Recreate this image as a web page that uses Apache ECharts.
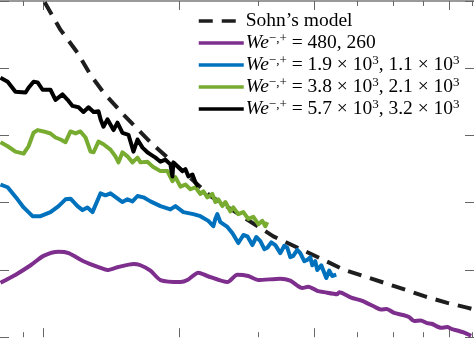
<!DOCTYPE html>
<html>
<head>
<meta charset="utf-8">
<script src="https://cdn.jsdelivr.net/npm/echarts@6/dist/echarts.min.js"></script>
<style>
  html, body { margin: 0; padding: 0; background: #fff; }
  #main { width: 474px; height: 354px; }
</style>
</head>
<body>
<div id="main"></div>
<script>
let chart = echarts.init(document.getElementById('main'));

// series names, as shown in the legend
const seriesNames = [
    'Sohn’s model',
    'We−,+ = 480, 260',
    'We−,+ = 1.9 × 10^3, 1.1 × 10^3',
    'We−,+ = 3.8 × 10^3, 2.1 × 10^3',
    'We−,+ = 5.7 × 10^3, 3.2 × 10^3'
];
const seriesColors = ['#1e1e1e', '#7e2f8e', '#0072bd', '#77ac30', '#000000'];

// tick positions (log x, linear y), no labels are visible in the crop
const xMajorTicks = [1, 2, 4, 8];
const xMinorTicks = [0.9, 3, 5, 6, 7, 9];
const yTicks = [0, 1, 2, 3, 4, 5];

// [x, y]
const sohnModel = [
    [0.95, 5.28], [1.0, 5.01], [1.091, 4.57], [1.19, 4.23], [1.272, 3.90],
    [1.359, 3.64], [1.506, 3.31], [1.729, 2.90], [2.35, 2.10], [3.245, 1.50],
    [4.106, 1.18], [4.67, 1.0], [6.03, 0.76], [7.03, 0.61], [7.91, 0.51],
    [8.755, 0.44], [9.2, 0.40]
];

const we480 = [
    [0.802, 0.81], [0.867, 0.93], [0.936, 1.07], [1.0, 1.21], [1.080, 1.27],
    [1.137, 1.25], [1.227, 1.13], [1.339, 1.03], [1.387, 1.00], [1.460, 1.04],
    [1.585, 1.09], [1.643, 1.07], [1.729, 0.99], [1.820, 0.85], [2.016, 0.82],
    [2.089, 0.85], [2.210, 0.96], [2.314, 0.91], [2.564, 0.82], [2.698, 0.93],
    [2.854, 0.91], [3.005, 0.85], [3.363, 0.87], [3.539, 0.84], [3.764, 0.73],
    [3.881, 0.75], [4.064, 0.69], [4.212, 0.67], [4.501, 0.64], [4.548, 0.67],
    [4.835, 0.59], [5.116, 0.54], [5.495, 0.44], [5.637, 0.41], [5.8, 0.42],
    [6.026, 0.36], [6.3, 0.33], [6.5, 0.30], [6.675, 0.24], [6.9, 0.25],
    [7.134, 0.21], [7.3, 0.20], [7.662, 0.14], [7.9, 0.15], [8.1, 0.12],
    [8.318, 0.10], [8.6, 0.07], [8.935, 0.02]
];

const we1900 = [
    [0.802, 2.27], [0.832, 2.23], [0.875, 2.05], [0.903, 1.93], [0.945, 1.80],
    [0.985, 1.80], [1.036, 1.86], [1.080, 1.95], [1.119, 2.05], [1.148, 2.06],
    [1.190, 1.95], [1.221, 1.89], [1.252, 1.93], [1.285, 1.86], [1.339, 2.14],
    [1.373, 2.11], [1.409, 2.14], [1.498, 2.01], [1.537, 2.05], [1.577, 2.02],
    [1.618, 2.10], [1.668, 2.08], [1.729, 2.02], [1.820, 1.95], [1.915, 1.90],
    [1.965, 1.95], [2.047, 1.86], [2.154, 1.83], [2.233, 1.80], [2.326, 1.73],
    [2.386, 1.65], [2.411, 1.76], [2.436, 1.83], [2.474, 1.71], [2.564, 1.64],
    [2.630, 1.55], [2.712, 1.40], [2.783, 1.52], [2.841, 1.50], [2.914, 1.37],
    [2.974, 1.49], [3.036, 1.43], [3.099, 1.31], [3.146, 1.33], [3.211, 1.41],
    [3.278, 1.37], [3.363, 1.25], [3.432, 1.36], [3.485, 1.33], [3.539, 1.19],
    [3.593, 1.21], [3.667, 1.30], [3.725, 1.25], [3.802, 1.13], [3.861, 1.15],
    [3.921, 1.19], [3.961, 1.07], [4.022, 1.13], [4.064, 1.00], [4.148, 1.07],
    [4.256, 0.88], [4.322, 0.99], [4.388, 0.91], [4.479, 0.93]
];

const we3800 = [
    [0.802, 2.90], [0.832, 2.84], [0.866, 2.76], [0.903, 2.73], [0.926, 2.84],
    [0.950, 3.04], [0.970, 3.08], [1.0, 3.06], [1.036, 3.03], [1.063, 2.97],
    [1.091, 2.94], [1.119, 2.90], [1.148, 3.06], [1.178, 3.03], [1.208, 3.06],
    [1.240, 2.97], [1.272, 2.76], [1.292, 2.75], [1.325, 2.91], [1.359, 2.87],
    [1.409, 2.79], [1.445, 2.69], [1.468, 2.60], [1.498, 2.75], [1.537, 2.69],
    [1.577, 2.60], [1.618, 2.67], [1.643, 2.60], [1.702, 2.61], [1.747, 2.54],
    [1.820, 2.47], [1.886, 2.47], [1.935, 2.32], [1.965, 2.38], [2.016, 2.24],
    [2.068, 2.27], [2.122, 2.20], [2.177, 2.23], [2.233, 2.13], [2.268, 2.17],
    [2.314, 2.08], [2.374, 2.13], [2.411, 2.01], [2.448, 2.05], [2.499, 1.95],
    [2.538, 2.01], [2.604, 1.87], [2.643, 1.93], [2.712, 1.83], [2.783, 1.86],
    [2.854, 1.76], [2.929, 1.79], [3.005, 1.68], [3.067, 1.73], [3.114, 1.65],
    [3.146, 1.71]
];

const we5700 = [
    [0.802, 3.86], [0.832, 3.80], [0.866, 3.65], [0.912, 3.64], [0.926, 3.71],
    [0.950, 3.80], [0.970, 3.79], [0.995, 3.68], [1.036, 3.68], [1.063, 3.53],
    [1.102, 3.61], [1.131, 3.53], [1.160, 3.44], [1.196, 3.42], [1.227, 3.35],
    [1.259, 3.42], [1.292, 3.35], [1.325, 3.36], [1.339, 3.24], [1.359, 3.13],
    [1.387, 3.24], [1.431, 3.08], [1.460, 3.19], [1.498, 3.04], [1.545, 3.01],
    [1.585, 2.76], [1.618, 2.94], [1.660, 2.82], [1.702, 2.75], [1.729, 2.72],
    [1.774, 2.67], [1.820, 2.61], [1.867, 2.64], [1.915, 2.57], [1.935, 2.39],
    [1.945, 2.60], [1.995, 2.53], [2.036, 2.47], [2.068, 2.50], [2.100, 2.39],
    [2.144, 2.42], [2.177, 2.30], [2.210, 2.24]
];

const seriesData = [sohnModel, we480, we1900, we3800, we5700];

// legend labels with italic We and superscripts
const legendLabels = {};
legendLabels[seriesNames[0]] = '{t|Sohn’s model}';
legendLabels[seriesNames[1]] = '{it|We}{sup|−,+}{t| = 480, 260}';
legendLabels[seriesNames[2]] = '{it|We}{sup|−,+}{t| = 1.9 × 10}{sup|3}{t|, 1.1 × 10}{sup|3}';
legendLabels[seriesNames[3]] = '{it|We}{sup|−,+}{t| = 3.8 × 10}{sup|3}{t|, 2.1 × 10}{sup|3}';
legendLabels[seriesNames[4]] = '{it|We}{sup|−,+}{t| = 5.7 × 10}{sup|3}{t|, 3.2 × 10}{sup|3}';

const serif = '"Liberation Serif", "DejaVu Serif", serif';
const axisGray = '#9a9a9a';
const tickGray = '#666666';

function xAxisDef(position, ticks, len, showLine) {
    return {
        type: 'log',
        position: position,
        min: 0.8,
        max: 9.07,
        logBase: 10,
        axisLine: { show: showLine, lineStyle: { color: axisGray, width: 2 } },
        axisTick: { show: true, inside: true, length: len, customValues: ticks,
            lineStyle: { color: tickGray, width: 1 } },
        axisLabel: { show: false },
        splitLine: { show: false }
    };
}

function yAxisDef(position) {
    return {
        type: 'value',
        position: position,
        min: -0.25,
        max: 5,
        axisLine: { show: false },
        axisTick: { show: true, inside: true, length: 9, customValues: yTicks,
            lineStyle: { color: tickGray, width: 1 } },
        axisLabel: { show: false },
        splitLine: { show: false }
    };
}

let option = {
    animation: false,
    backgroundColor: '#ffffff',
    grid: { left: -1, right: 0, top: 1, bottom: -1.4, containLabel: false },
    xAxis: [
        xAxisDef('bottom', xMajorTicks, 9, false),
        xAxisDef('bottom', xMinorTicks, 5, false),
        xAxisDef('top', xMajorTicks, 9, true),
        xAxisDef('top', xMinorTicks, 5, false)
    ],
    yAxis: [yAxisDef('left'), yAxisDef('right')],
    legend: {
        orient: 'vertical',
        left: 197,
        top: 11,
        padding: 0,
        itemWidth: 45,
        itemHeight: 12,
        itemGap: 1.5,
        itemStyle: { opacity: 0 },
        lineStyle: { width: 3.5 },
        data: seriesNames,
        formatter: function (name) { return legendLabels[name]; },
        textStyle: {
            padding: [0, 0, 0, -3],
            rich: {
                t: { fontFamily: serif, fontSize: 19.5, color: '#000', lineHeight: 21 },
                it: { fontFamily: serif, fontSize: 19.5, fontStyle: 'italic', color: '#000', lineHeight: 21 },
                sup: { fontFamily: serif, fontSize: 13, color: '#000', lineHeight: 10, verticalAlign: 'top' }
            }
        }
    },
    series: seriesNames.map(function (name, i) {
        return {
            name: name,
            type: 'line',
            data: seriesData[i],
            xAxisIndex: 0,
            yAxisIndex: 0,
            symbol: 'none',
            showSymbol: false,
            smooth: i === 1 ? 0.25 : false,
            color: seriesColors[i],
            lineStyle: {
                color: seriesColors[i],
                width: 4,
                type: i === 0 ? [14, 9] : 'solid',
                join: 'round'
            },
            z: 2
        };
    })
};

chart.setOption(option);
</script>
</body>
</html>
